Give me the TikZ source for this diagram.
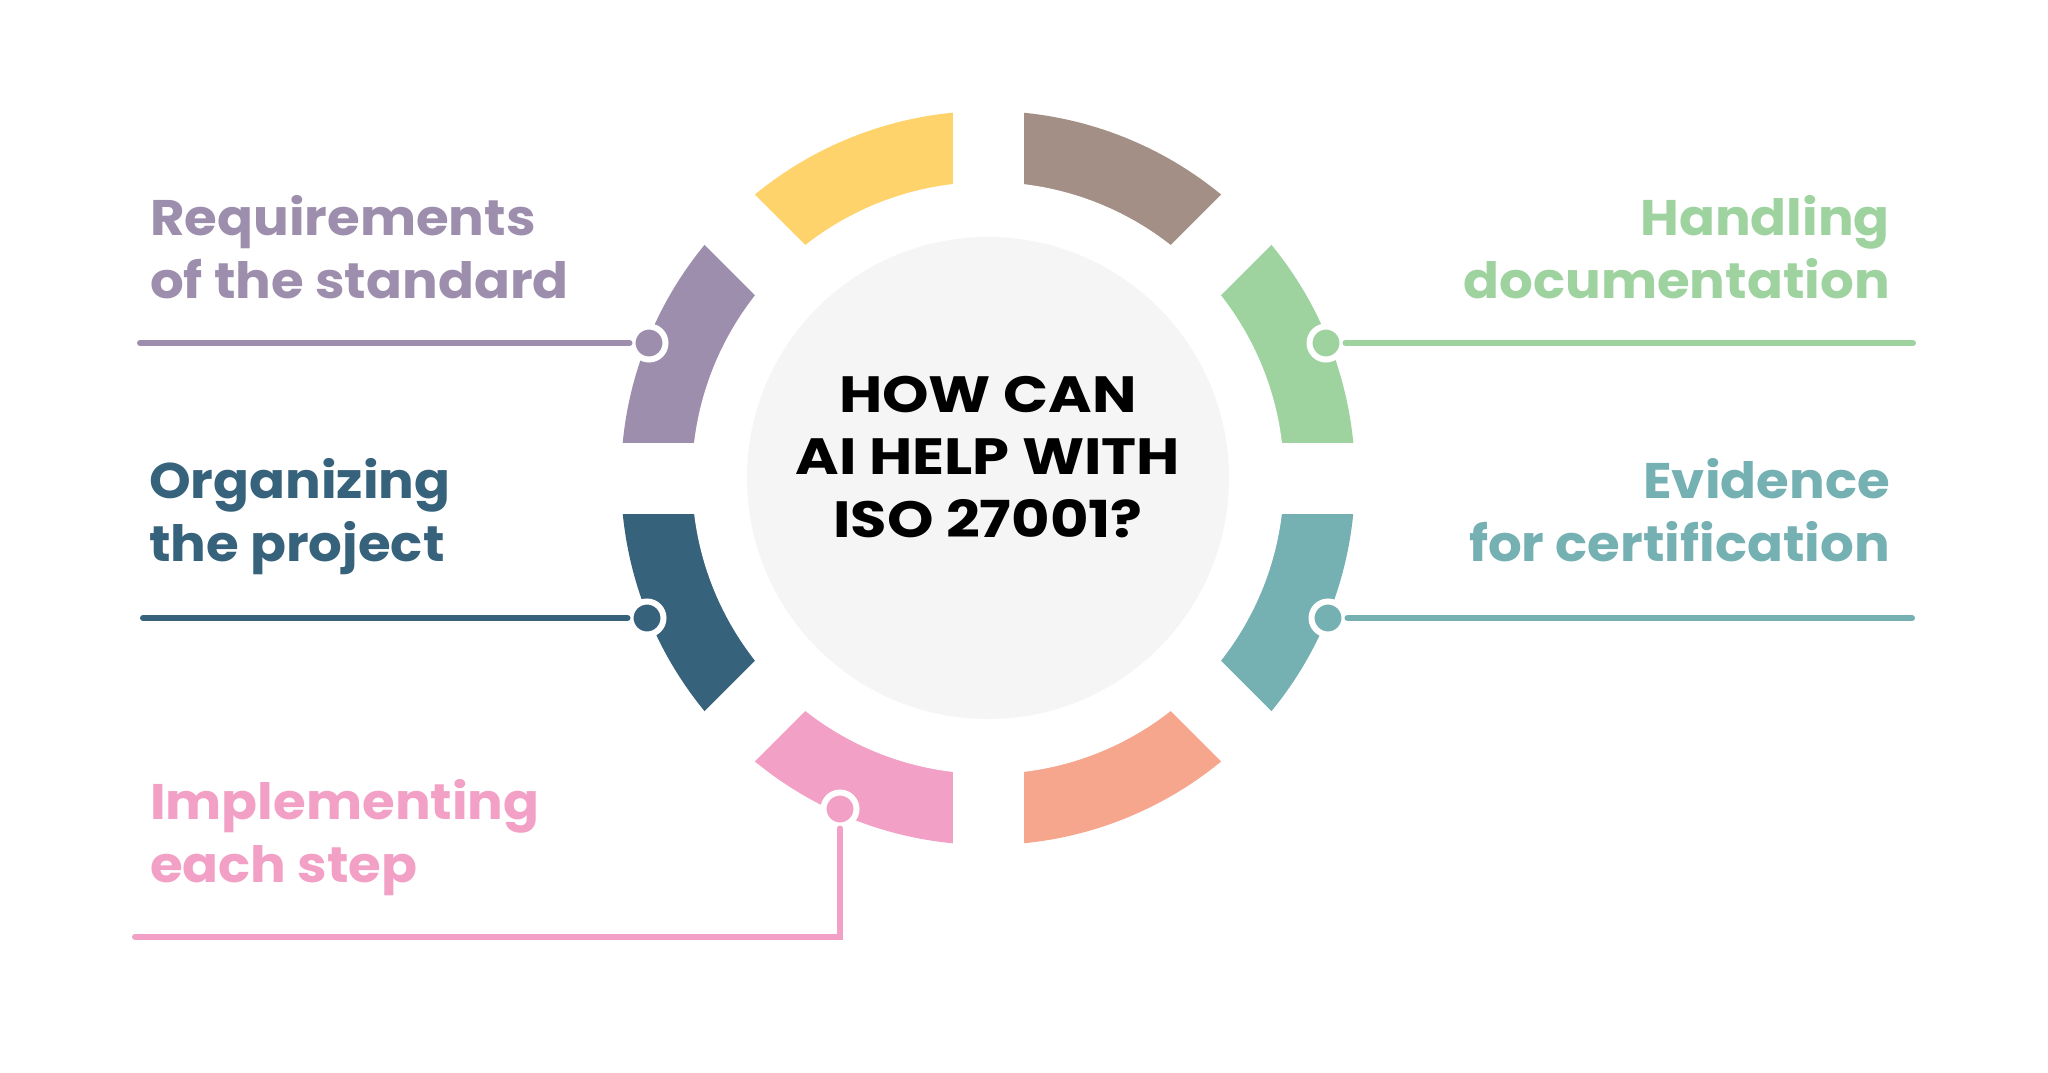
\documentclass[tikz,border=0pt]{standalone}
\usepackage{fontspec}
\setmainfont{Poppins}
\newfontfamily\labelfont{Poppins Bold}[FakeStretch=1.06]
\newfontfamily\titlefont{Poppins Bold}[FakeStretch=1.16]
\usetikzlibrary{positioning}

\definecolor{segyellow}{HTML}{FFD36B}
\definecolor{segbrown}{HTML}{A38F86}
\definecolor{seggreen}{HTML}{9ED3A0}
\definecolor{segteal}{HTML}{75B0B3}
\definecolor{segsalmon}{HTML}{F6A68C}
\definecolor{segpink}{HTML}{F2A0C5}
\definecolor{segblue}{HTML}{37627C}
\definecolor{segpurple}{HTML}{9E8EAD}
\definecolor{coregray}{HTML}{F4F5F4}

\begin{document}
\begin{tikzpicture}[x=1pt, y=-1pt,
        label text/.style={font=\fontsize{50}{62.7}\labelfont, inner sep=0pt},
        title text/.style={font=\fontsize{51}{62.5}\titlefont, align=center, inner sep=0pt},
        link line/.style={line width=6pt, line cap=round},
        link dot/.style={circle, draw=white, line width=6pt, minimum size=33pt, inner sep=0pt}]

    \useasboundingbox[fill=white] (0,0) rectangle (2048,1072);
    \coordinate (c) at (988,478);

    % ring segments
    \foreach \a/\col in {0/segteal, 45/segsalmon, 90/segpink, 135/segblue,
                         180/segpurple, 225/segyellow, 270/segbrown, 315/seggreen} {
        \fill[\col] (c) -- ++(\a:367) arc[start angle=\a, end angle=\a+45, radius=367] -- cycle;
    }

    % gaps between the segments
    \foreach \a in {0,45,90,135} {
        \draw[white, line width=71pt] (c) ++(\a:380) -- ++(\a+180:760);
    }
    \fill[white] (c) circle[radius=296];
    \fill[coregray] (c) circle[radius=241];

    \node[title text] (title) at (988,457) {HOW CAN\\AI HELP WITH\\ISO 27001?};

    % connectors
    \node[link dot, fill=segpurple] (dot1) at (649,343) {};
    \node[link dot, fill=segblue] (dot2) at (647,618) {};
    \node[link dot, fill=segpink] (dot3) at (840,809) {};
    \node[link dot, fill=seggreen] (dot4) at (1326,343) {};
    \node[link dot, fill=segteal] (dot5) at (1328,618) {};

    \coordinate (end1) at (140,343);
    \coordinate (end2) at (143,618);
    \coordinate (end3) at (135,937);
    \coordinate (end4) at (1913,343);
    \coordinate (end5) at (1912,618);

    \draw[link line, segpurple] (end1) -- (dot1.west);
    \draw[link line, segblue] (end2) -- (dot2.west);
    \draw[link line, segpink] (end3) -| (dot3.south);
    \draw[link line, seggreen] (end4) -- (dot4.east);
    \draw[link line, segteal] (end5) -- (dot5.east);

    % labels (base = last line)
    \node[label text, align=left, anchor=base west, segpurple] (lab1) at (150,298) {Requirements\\of the standard};
    \node[label text, align=left, anchor=base west, segblue] (lab2) at (149,561) {Organizing\\the project};
    \node[label text, align=left, anchor=base west, segpink] (lab3) at (150,882) {Implementing\\each step};
    \node[label text, align=right, anchor=base east, seggreen] (lab4) at (1890,298) {Handling\\documentation};
    \node[label text, align=right, anchor=base east, segteal] (lab5) at (1890,561) {Evidence\\for certification};
\end{tikzpicture}
\end{document}
